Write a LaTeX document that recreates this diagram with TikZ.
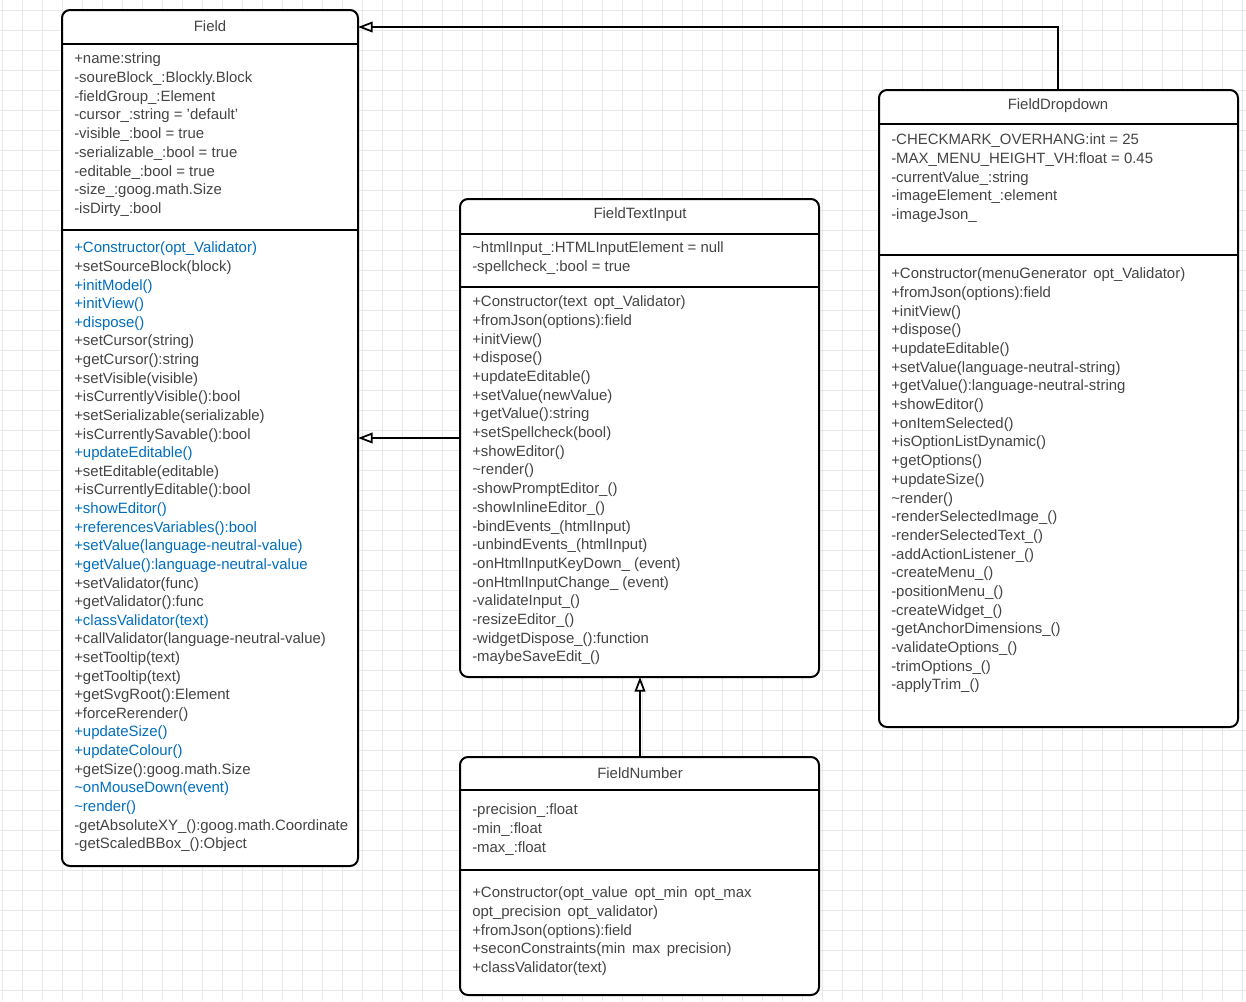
\documentclass[tikz,border=0pt]{standalone}
\usepackage{fontspec}
\setmainfont{Liberation Sans}
\usetikzlibrary{arrows.meta}
\definecolor{gridc}{RGB}{232,232,232}
\definecolor{txt}{RGB}{68,68,68}
\definecolor{blu}{RGB}{0,110,190}
\begin{document}
\begin{tikzpicture}[x=0.75pt,y=-0.75pt,
  box/.style={draw=black,line width=1.5pt,rounded corners=6pt},
  sep/.style={line width=1.3pt},
  t/.style={anchor=west,inner sep=0pt,font=\fontsize{11.2}{12}\selectfont,text=txt},
  b/.style={t,text=blu},
  h/.style={inner sep=0pt,font=\fontsize{11.2}{12}\selectfont,text=txt},
  inh/.style={line width=1.3pt,-{Triangle[open,length=11pt,width=8pt]}}]
\useasboundingbox (0,0) rectangle (1246,1001);
\fill[white] (0,0) rectangle (1246,1001);
\foreach \x in {2,22,...,1246} \draw[gridc,line width=0.6pt] (\x,0)--(\x,1001);
\foreach \y in {10,30,...,1001} \draw[gridc,line width=0.6pt] (0,\y)--(1246,\y);

% Field
\draw[box,fill=white] (62,10) rectangle (358,866);
\draw[sep] (62,44)--(358,44); \draw[sep] (62,230)--(358,230);
\node[h] (fieldh) at (210,26) {Field};
\coordinate (fieldtop) at (358,27);
\coordinate (fieldmid) at (358,438);
\foreach [count=\i] \s in {+name:string,-soureBlock\_:Blockly.Block,-fieldGroup\_:Element,-cursor\_:string = 'default',-visible\_:bool = true,-serializable\_:bool = true,-editable\_:bool = true,-size\_:goog.math.Size,-isDirty\_:bool}
  \node[t] (fa\i) at (74,{60+(\i-1)*18.7}) {\s};
\foreach [count=\i] \s/\c in {+Constructor(opt\_Validator)/b,+setSourceBlock(block)/t,+initModel()/b,+initView()/b,+dispose()/b,+setCursor(string)/t,+getCursor():string/t,+setVisible(visible)/t,+isCurrentlyVisible():bool/t,+setSerializable(serializable)/t,+isCurrentlySavable():bool/t,+updateEditable()/b,+setEditable(editable)/t,+isCurrentlyEditable():bool/t,+showEditor()/b,+referencesVariables():bool/b,+setValue(language-neutral-value)/b,+getValue():language-neutral-value/b,+setValidator(func)/t,+getValidator():func/t,+classValidator(text)/b,+callValidator(language-neutral-value)/t,+setTooltip(text)/t,+getTooltip(text)/t,+getSvgRoot():Element/t,+forceRerender()/t,+updateSize()/b,+updateColour()/b,+getSize():goog.math.Size/t,\textasciitilde onMouseDown(event)/b,\textasciitilde render()/b,-getAbsoluteXY\_():goog.math.Coordinate/t,-getScaledBBox\_():Object/t}
  \node[\c] (fm\i) at (74,{249+(\i-1)*18.62}) {\s};

% FieldTextInput
\draw[box,fill=white] (460,199) rectangle (819,677);
\draw[sep] (460,234)--(819,234); \draw[sep] (460,287)--(819,287);
\node[h] (tih) at (640,215) {FieldTextInput};
\coordinate (tileft) at (460,438);
\coordinate (tibot) at (640,677);
\foreach [count=\i] \s in {\textasciitilde htmlInput\_:HTMLInputElement = null,-spellcheck\_:bool = true}
  \node[t] (ta\i) at (472,{249+(\i-1)*18.7}) {\s};
\foreach [count=\i] \s in {+Constructor(text\, opt\_Validator),+fromJson(options):field,+initView(),+dispose(),+updateEditable(),+setValue(newValue),+getValue():string,+setSpellcheck(bool),+showEditor(),\textasciitilde render(),-showPromptEditor\_(),-showInlineEditor\_(),-bindEvents\_(htmlInput),-unbindEvents\_(htmlInput),-onHtmlInputKeyDown\_ (event),-onHtmlInputChange\_ (event),-validateInput\_(),-resizeEditor\_(),-widgetDispose\_():function,-maybeSaveEdit\_()}
  \node[t] (tm\i) at (472,{303+(\i-1)*18.68}) {\s};

% FieldDropdown
\draw[box,fill=white] (879,90) rectangle (1238,727);
\draw[sep] (879,124)--(1238,124); \draw[sep] (879,255)--(1238,255);
\node[h] (ddh) at (1058,106) {FieldDropdown};
\coordinate (ddtop) at (1058,90);
\foreach [count=\i] \s in {-CHECKMARK\_OVERHANG:int = 25,-MAX\_MENU\_HEIGHT\_VH:float = 0.45,-currentValue\_:string,-imageElement\_:element,-imageJson\_}
  \node[t] (da\i) at (891,{141+(\i-1)*18.7}) {\s};
\foreach [count=\i] \s in {+Constructor(menuGenerator\, opt\_Validator),+fromJson(options):field,+initView(),+dispose(),+updateEditable(),+setValue(language-neutral-string),+getValue():language-neutral-string,+showEditor(),+onItemSelected(),+isOptionListDynamic(),+getOptions(),+updateSize(),\textasciitilde render(),-renderSelectedImage\_(),-renderSelectedText\_(),-addActionListener\_(),-createMenu\_(),-positionMenu\_(),-createWidget\_(),-getAnchorDimensions\_(),-validateOptions\_(),-trimOptions\_(),-applyTrim\_()}
  \node[t] (dm\i) at (891,{275+(\i-1)*18.68}) {\s};

% FieldNumber
\draw[box,fill=white] (460,757) rectangle (819,995);
\draw[sep] (460,790)--(819,790); \draw[sep] (460,870)--(819,870);
\node[h] (nh) at (640,773) {FieldNumber};
\coordinate (ntop) at (640,757);
\foreach [count=\i] \s in {-precision\_:float,-min\_:float,-max\_:float}
  \node[t] (na\i) at (472,{811+(\i-1)*18.7}) {\s};
\foreach [count=\i] \s in {+Constructor(opt\_value\, opt\_min\, opt\_max\,,opt\_precision\, opt\_validator),+fromJson(options):field,+seconConstraints(min\, max\, precision),+classValidator(text)}
  \node[t] (nm\i) at (472,{894+(\i-1)*18.7}) {\s};

% inheritance
\draw[inh] (ddtop) -- (1058,27) -- (fieldtop);
\draw[inh] (tileft) -- (fieldmid);
\draw[inh] (ntop) -- (tibot);
\end{tikzpicture}
\end{document}
